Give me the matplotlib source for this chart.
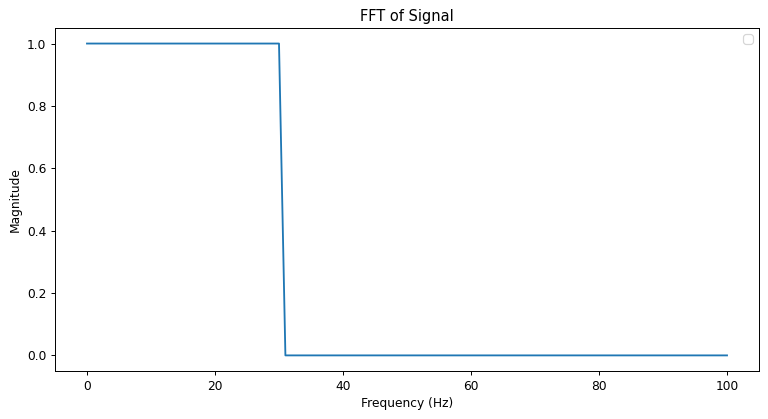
import matplotlib
matplotlib.use("Agg")
import matplotlib.pyplot as plt
import numpy as np

# Frequency bins (Hz) and FFT magnitude
freq_hz = list(range(0, 101))
magnitude = [1.0] * 31 + [0.0] * 70

DPI = 88
fig = plt.figure(figsize=(768 / DPI, 419 / DPI), dpi=DPI)
ax = fig.add_axes([0.0716, 0.1146, 0.9167, 0.8187])
ax.plot(freq_hz, magnitude)
ax.set_title("FFT of Signal")
ax.set_xlabel("Frequency (Hz)")
ax.set_ylabel("Magnitude")
ax.legend()
fig.savefig("out.png", dpi=DPI)
